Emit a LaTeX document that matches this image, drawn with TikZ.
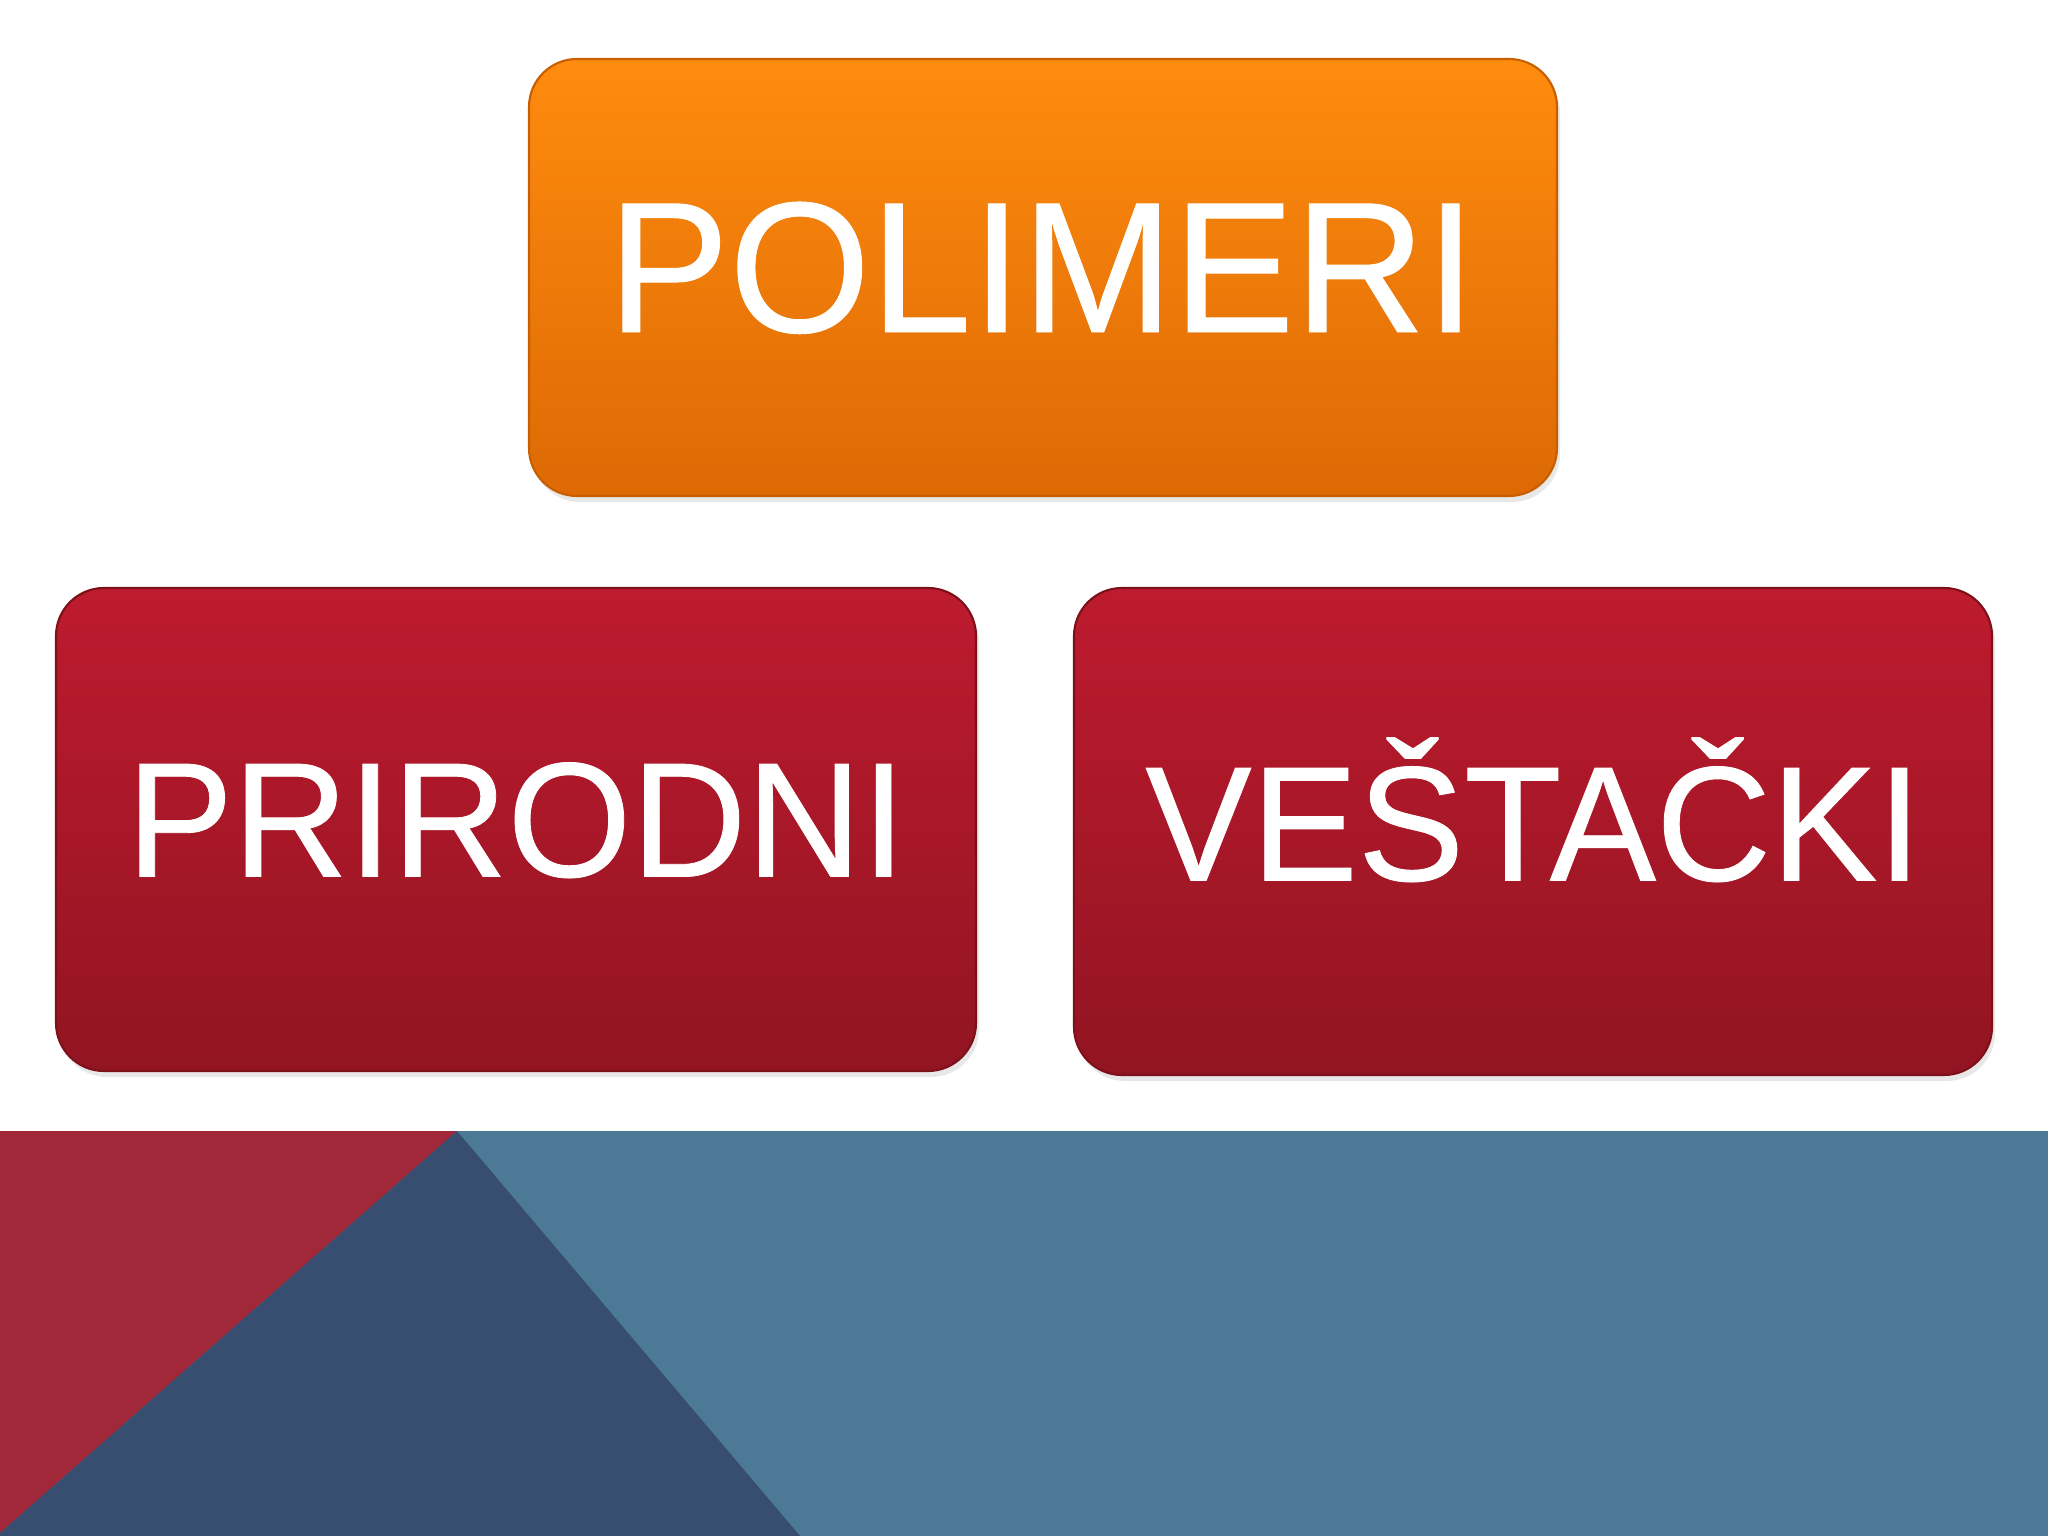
\documentclass[tikz,border=0pt]{standalone}
\usepackage{fontspec}
\setmainfont{Liberation Sans}
\newfontfamily\lblfont[FakeBold=0.5]{Liberation Sans}
\usetikzlibrary{shadows}
\definecolor{orTop}{HTML}{FF8C0E}
\definecolor{orBot}{HTML}{DD6905}
\definecolor{orEdge}{HTML}{C85E00}
\definecolor{rdTop}{HTML}{BE1B2E}
\definecolor{rdBot}{HTML}{921422}
\definecolor{rdEdge}{HTML}{7E1019}
\definecolor{bandRed}{HTML}{A12838}
\definecolor{bandDark}{HTML}{384E70}
\definecolor{bandLight}{HTML}{4B7996}
\tikzset{
  boxbase/.style={rectangle, rounded corners=0.48cm, inner sep=0pt, line width=0.6pt,
    drop shadow={opacity=0.18, shadow xshift=0.03cm, shadow yshift=-0.06cm}},
  orbox/.style={boxbase, top color=orTop, bottom color=orBot, draw=orEdge},
  rdbox/.style={boxbase, top color=rdTop, bottom color=rdBot, draw=rdEdge},
  lbl/.style={text=white, inner sep=0pt, anchor=base, xscale=0.975},
}
\begin{document}
\begin{tikzpicture}
\useasboundingbox (0,0) rectangle (20.48,-15.36);
\fill[white] (0,0) rectangle (20.48,-15.36);
% bottom band
\fill[bandLight] (0,-11.31) rectangle (20.48,-15.36);
\fill[bandRed] (0,-11.31) -- (4.57,-11.31) -- (0,-15.33) -- cycle;
\fill[bandDark] (4.57,-11.31) -- (8.0,-15.36) -- (0,-15.36) -- (0,-15.33) -- cycle;
% boxes
\node[orbox, minimum width=10.28cm, minimum height=4.37cm] (polimeri) at (10.43,-2.775) {};
\node[rdbox, minimum width=9.20cm, minimum height=4.83cm] (prirodni) at (5.16,-8.295) {};
\node[rdbox, minimum width=9.18cm, minimum height=4.87cm] (vestacki) at (15.33,-8.315) {};
% labels
\node[lbl, font=\lblfont\fontsize{53}{62}\selectfont] (tpol) at (10.42,-3.32) {POLIMERI};
\node[lbl, font=\lblfont\fontsize{46.5}{56}\selectfont] (tpri) at (5.163,-8.765) {PRIRODNI};
\node[lbl, font=\lblfont\fontsize{46.5}{56}\selectfont] (tves) at (15.335,-8.805) {VEŠTAČKI};
\end{tikzpicture}
\end{document}
